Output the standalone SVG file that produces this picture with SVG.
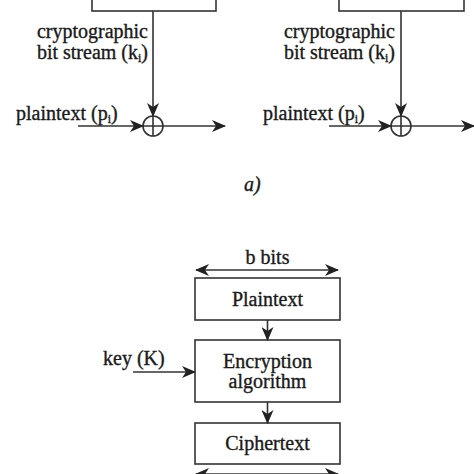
<svg xmlns="http://www.w3.org/2000/svg" width="474" height="474" viewBox="0 0 474 474">
<style>
.box{fill:#fff;stroke:#333;stroke-width:1.6}
.ln{fill:none;stroke:#333;stroke-width:1.6}
.t{font-family:"Liberation Serif","DejaVu Serif",serif;font-size:20px;fill:#1a1a1a;stroke:#1a1a1a;stroke-width:0.35}
.s{font-size:12px}
</style>
<defs>
<marker id="ah" viewBox="0 0 14 12" refX="13" refY="6" markerWidth="14" markerHeight="12" markerUnits="userSpaceOnUse" orient="auto-start-reverse">
<path d="M0,0 L14,6 L0,12 L4,6 Z" fill="#222"/>
</marker>
</defs>
<rect width="474" height="474" fill="#fff"/>
<g id="box-left"><rect class="box" x="92" y="-10" width="124" height="21"/></g>
<g id="box-right"><rect class="box" x="339" y="-10" width="125" height="21"/></g>
<g id="xor-left"><circle cx="153" cy="126" r="10" fill="#fff" stroke="#333" stroke-width="1.6"/><path class="ln" d="M143,126 H163 M153,116 V136"/></g>
<g id="xor-right"><circle cx="401" cy="126" r="10" fill="#fff" stroke="#333" stroke-width="1.6"/><path class="ln" d="M391,126 H411 M401,116 V136"/></g>
<g id="plaintext"><rect class="box" x="195" y="278" width="145" height="42"/><text class="t" x="267.5" y="306" text-anchor="middle">Plaintext</text></g>
<g id="encryption"><rect class="box" x="195" y="340" width="145" height="62"/><text class="t" x="267.5" y="368" text-anchor="middle">Encryption</text><text class="t" x="267.5" y="388" text-anchor="middle">algorithm</text></g>
<g id="ciphertext"><rect class="box" x="195" y="423" width="145" height="41"/><text class="t" x="267.5" y="450" text-anchor="middle">Ciphertext</text></g>
<g id="connectors">
<line class="ln" x1="153" y1="11" x2="153" y2="116" marker-end="url(#ah)"/>
<line class="ln" x1="78" y1="126" x2="143" y2="126" marker-end="url(#ah)"/>
<line class="ln" x1="163" y1="126" x2="225" y2="126" marker-end="url(#ah)"/>
<line class="ln" x1="401" y1="11" x2="401" y2="116" marker-end="url(#ah)"/>
<line class="ln" x1="329" y1="126" x2="391" y2="126" marker-end="url(#ah)"/>
<line class="ln" x1="411" y1="126" x2="474" y2="126" marker-end="url(#ah)"/>
<line class="ln" x1="196" y1="270" x2="338" y2="270" marker-start="url(#ah)" marker-end="url(#ah)"/>
<line class="ln" x1="267.5" y1="320" x2="267.5" y2="340" marker-end="url(#ah)"/>
<line class="ln" x1="133" y1="372" x2="195" y2="372" marker-end="url(#ah)"/>
<line class="ln" x1="267.5" y1="402" x2="267.5" y2="423" marker-end="url(#ah)"/>
<line class="ln" x1="196" y1="474" x2="338" y2="474" marker-start="url(#ah)" marker-end="url(#ah)"/>
</g>
<g id="labels">
<text class="t" x="148" y="38" text-anchor="end">cryptographic</text>
<text class="t" x="148" y="59" text-anchor="end">bit stream (k<tspan class="s" dy="3">i</tspan><tspan dy="-3">)</tspan></text>
<text class="t" x="16" y="120">plaintext (p<tspan class="s" dy="3">i</tspan><tspan dy="-3">)</tspan></text>
<text class="t" x="395" y="38" text-anchor="end">cryptographic</text>
<text class="t" x="395" y="59" text-anchor="end">bit stream (k<tspan class="s" dy="3">i</tspan><tspan dy="-3">)</tspan></text>
<text class="t" x="263" y="120">plaintext (p<tspan class="s" dy="3">i</tspan><tspan dy="-3">)</tspan></text>
<text class="t" x="244" y="191" font-style="italic">a)</text>
<text class="t" x="267.5" y="264" text-anchor="middle">b bits</text>
<text class="t" x="103" y="365">key (K)</text>
</g>
</svg>
